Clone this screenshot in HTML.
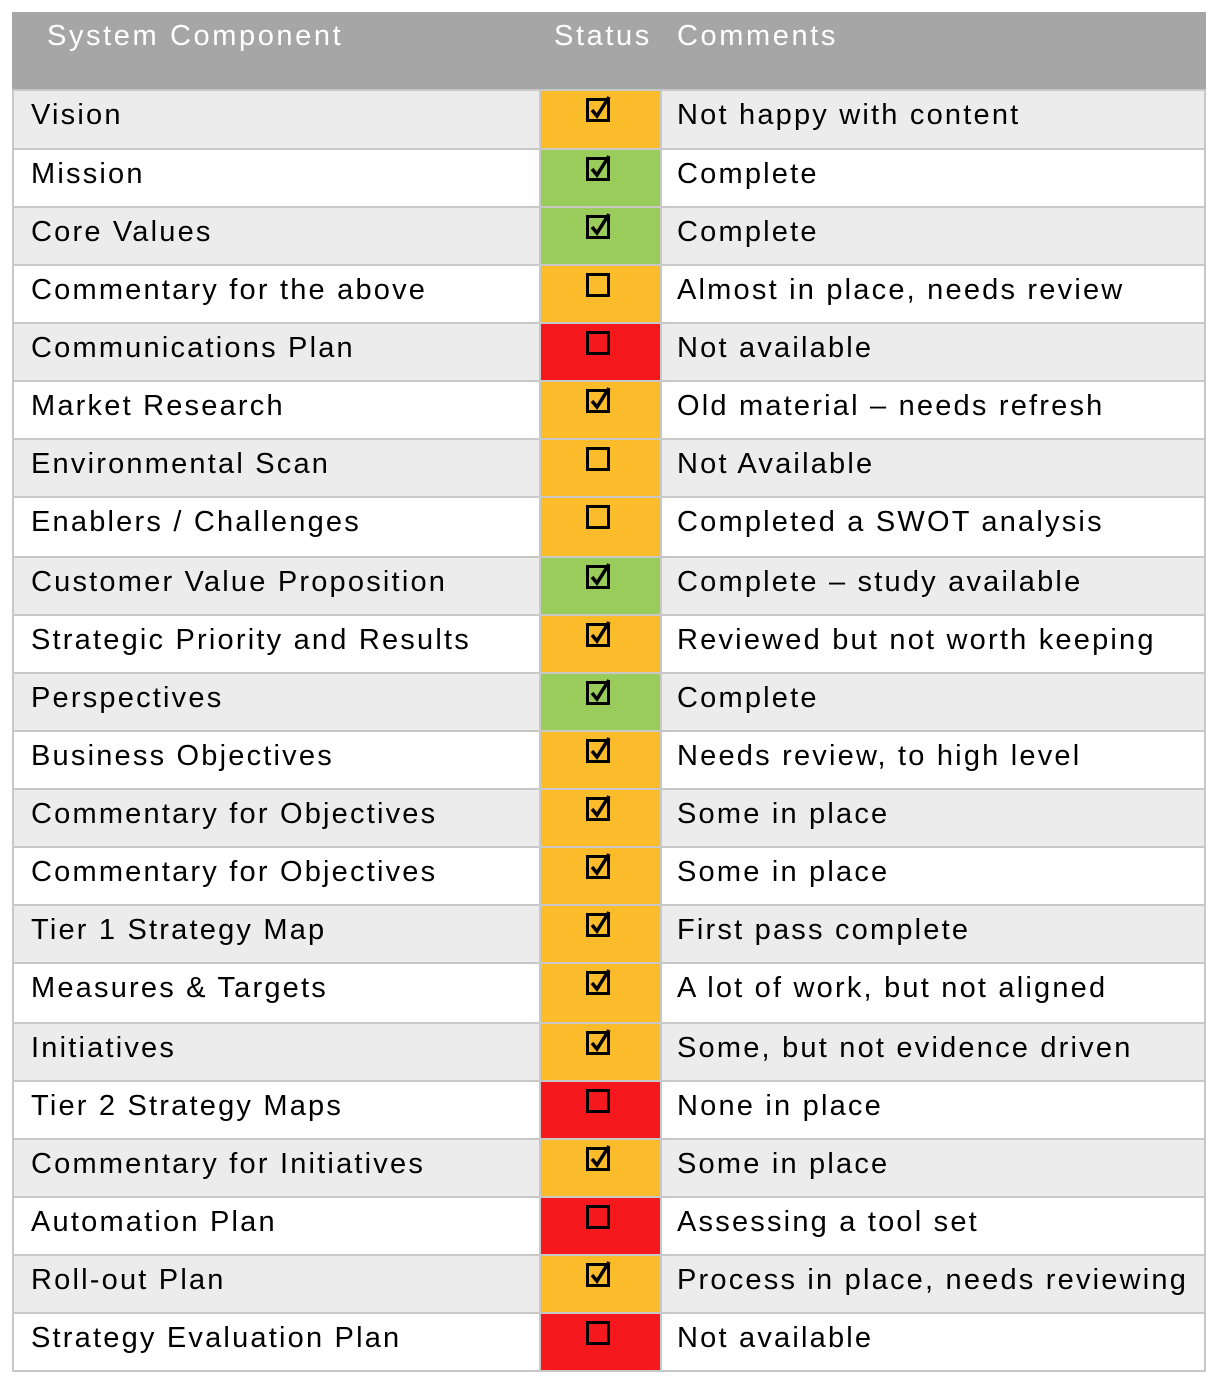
<!DOCTYPE html>
<html><head><meta charset="utf-8"><style>
body{margin:0;width:1218px;height:1386px;background:#fff;position:relative;overflow:hidden;font-family:"Liberation Sans",sans-serif;}
.h{position:absolute;left:12px;top:12px;width:1194px;height:77px;background:#a6a6a6;}
.ht{position:absolute;top:22px;color:#fff;font-size:29px;line-height:28px;letter-spacing:2.6px;}
.r{position:absolute;left:12px;width:1194px;border-top:2px solid #c8c8c8;border-left:2px solid #c8c8c8;border-right:2px solid #c8c8c8;box-sizing:border-box;}
.g{background:#ececec}.w{background:#fff}
.s{position:absolute;left:525px;top:0;bottom:0;width:119px;border-left:2px solid #c8c8c8;border-right:2px solid #c8c8c8;}
.o{background:#fbbc2c}.gr{background:#99cc5a}.rd{background:#f5191e}
.t{position:absolute;top:10px;font-size:29px;line-height:28px;letter-spacing:2.2px;color:#000;white-space:nowrap;}
.a{left:17px}.c{left:663px}
.b{position:absolute;left:45px;top:5px;width:26px;height:26px;}
.bot{position:absolute;left:12px;top:1370px;width:1194px;height:2px;background:#c8c8c8;}
</style></head><body>
<div class="h"></div>
<div class="ht" style="left:47px">System Component</div>
<div class="ht" style="left:554px">Status</div>
<div class="ht" style="left:677px">Comments</div>

<div class="r g" style="top:89px;height:59px"><div class="t a">Vision</div><div class="s o"><svg class="b" viewBox="0 0 26 26"><rect x="1.5" y="3.5" width="21" height="21" fill="none" stroke="#000" stroke-width="3"/><path d="M6 14 L11 20 L23 1" fill="none" stroke="#000" stroke-width="3.5"/></svg></div><div class="t c">Not happy with content</div></div>
<div class="r w" style="top:148px;height:58px"><div class="t a">Mission</div><div class="s gr"><svg class="b" viewBox="0 0 26 26"><rect x="1.5" y="3.5" width="21" height="21" fill="none" stroke="#000" stroke-width="3"/><path d="M6 14 L11 20 L23 1" fill="none" stroke="#000" stroke-width="3.5"/></svg></div><div class="t c">Complete</div></div>
<div class="r g" style="top:206px;height:58px"><div class="t a">Core Values</div><div class="s gr"><svg class="b" viewBox="0 0 26 26"><rect x="1.5" y="3.5" width="21" height="21" fill="none" stroke="#000" stroke-width="3"/><path d="M6 14 L11 20 L23 1" fill="none" stroke="#000" stroke-width="3.5"/></svg></div><div class="t c">Complete</div></div>
<div class="r w" style="top:264px;height:58px"><div class="t a">Commentary for the above</div><div class="s o"><svg class="b" viewBox="0 0 26 26"><rect x="1.5" y="3.5" width="21" height="21" fill="none" stroke="#000" stroke-width="3"/></svg></div><div class="t c">Almost in place, needs review</div></div>
<div class="r g" style="top:322px;height:58px"><div class="t a">Communications Plan</div><div class="s rd"><svg class="b" viewBox="0 0 26 26"><rect x="1.5" y="3.5" width="21" height="21" fill="none" stroke="#000" stroke-width="3"/></svg></div><div class="t c">Not available</div></div>
<div class="r w" style="top:380px;height:58px"><div class="t a">Market Research</div><div class="s o"><svg class="b" viewBox="0 0 26 26"><rect x="1.5" y="3.5" width="21" height="21" fill="none" stroke="#000" stroke-width="3"/><path d="M6 14 L11 20 L23 1" fill="none" stroke="#000" stroke-width="3.5"/></svg></div><div class="t c">Old material – needs refresh</div></div>
<div class="r g" style="top:438px;height:58px"><div class="t a">Environmental Scan</div><div class="s o"><svg class="b" viewBox="0 0 26 26"><rect x="1.5" y="3.5" width="21" height="21" fill="none" stroke="#000" stroke-width="3"/></svg></div><div class="t c">Not Available</div></div>
<div class="r w" style="top:496px;height:60px"><div class="t a">Enablers / Challenges</div><div class="s o"><svg class="b" viewBox="0 0 26 26"><rect x="1.5" y="3.5" width="21" height="21" fill="none" stroke="#000" stroke-width="3"/></svg></div><div class="t c">Completed a SWOT analysis</div></div>
<div class="r g" style="top:556px;height:58px"><div class="t a">Customer Value Proposition</div><div class="s gr"><svg class="b" viewBox="0 0 26 26"><rect x="1.5" y="3.5" width="21" height="21" fill="none" stroke="#000" stroke-width="3"/><path d="M6 14 L11 20 L23 1" fill="none" stroke="#000" stroke-width="3.5"/></svg></div><div class="t c">Complete – study available</div></div>
<div class="r w" style="top:614px;height:58px"><div class="t a">Strategic Priority and Results</div><div class="s o"><svg class="b" viewBox="0 0 26 26"><rect x="1.5" y="3.5" width="21" height="21" fill="none" stroke="#000" stroke-width="3"/><path d="M6 14 L11 20 L23 1" fill="none" stroke="#000" stroke-width="3.5"/></svg></div><div class="t c">Reviewed but not worth keeping</div></div>
<div class="r g" style="top:672px;height:58px"><div class="t a">Perspectives</div><div class="s gr"><svg class="b" viewBox="0 0 26 26"><rect x="1.5" y="3.5" width="21" height="21" fill="none" stroke="#000" stroke-width="3"/><path d="M6 14 L11 20 L23 1" fill="none" stroke="#000" stroke-width="3.5"/></svg></div><div class="t c">Complete</div></div>
<div class="r w" style="top:730px;height:58px"><div class="t a">Business Objectives</div><div class="s o"><svg class="b" viewBox="0 0 26 26"><rect x="1.5" y="3.5" width="21" height="21" fill="none" stroke="#000" stroke-width="3"/><path d="M6 14 L11 20 L23 1" fill="none" stroke="#000" stroke-width="3.5"/></svg></div><div class="t c">Needs review, to high level</div></div>
<div class="r g" style="top:788px;height:58px"><div class="t a">Commentary for Objectives</div><div class="s o"><svg class="b" viewBox="0 0 26 26"><rect x="1.5" y="3.5" width="21" height="21" fill="none" stroke="#000" stroke-width="3"/><path d="M6 14 L11 20 L23 1" fill="none" stroke="#000" stroke-width="3.5"/></svg></div><div class="t c">Some in place</div></div>
<div class="r w" style="top:846px;height:58px"><div class="t a">Commentary for Objectives</div><div class="s o"><svg class="b" viewBox="0 0 26 26"><rect x="1.5" y="3.5" width="21" height="21" fill="none" stroke="#000" stroke-width="3"/><path d="M6 14 L11 20 L23 1" fill="none" stroke="#000" stroke-width="3.5"/></svg></div><div class="t c">Some in place</div></div>
<div class="r g" style="top:904px;height:58px"><div class="t a">Tier 1 Strategy Map</div><div class="s o"><svg class="b" viewBox="0 0 26 26"><rect x="1.5" y="3.5" width="21" height="21" fill="none" stroke="#000" stroke-width="3"/><path d="M6 14 L11 20 L23 1" fill="none" stroke="#000" stroke-width="3.5"/></svg></div><div class="t c">First pass complete</div></div>
<div class="r w" style="top:962px;height:60px"><div class="t a">Measures &amp; Targets</div><div class="s o"><svg class="b" viewBox="0 0 26 26"><rect x="1.5" y="3.5" width="21" height="21" fill="none" stroke="#000" stroke-width="3"/><path d="M6 14 L11 20 L23 1" fill="none" stroke="#000" stroke-width="3.5"/></svg></div><div class="t c">A lot of work, but not aligned</div></div>
<div class="r g" style="top:1022px;height:58px"><div class="t a">Initiatives</div><div class="s o"><svg class="b" viewBox="0 0 26 26"><rect x="1.5" y="3.5" width="21" height="21" fill="none" stroke="#000" stroke-width="3"/><path d="M6 14 L11 20 L23 1" fill="none" stroke="#000" stroke-width="3.5"/></svg></div><div class="t c">Some, but not evidence driven</div></div>
<div class="r w" style="top:1080px;height:58px"><div class="t a">Tier 2 Strategy Maps</div><div class="s rd"><svg class="b" viewBox="0 0 26 26"><rect x="1.5" y="3.5" width="21" height="21" fill="none" stroke="#000" stroke-width="3"/></svg></div><div class="t c">None in place</div></div>
<div class="r g" style="top:1138px;height:58px"><div class="t a">Commentary for Initiatives</div><div class="s o"><svg class="b" viewBox="0 0 26 26"><rect x="1.5" y="3.5" width="21" height="21" fill="none" stroke="#000" stroke-width="3"/><path d="M6 14 L11 20 L23 1" fill="none" stroke="#000" stroke-width="3.5"/></svg></div><div class="t c">Some in place</div></div>
<div class="r w" style="top:1196px;height:58px"><div class="t a">Automation Plan</div><div class="s rd"><svg class="b" viewBox="0 0 26 26"><rect x="1.5" y="3.5" width="21" height="21" fill="none" stroke="#000" stroke-width="3"/></svg></div><div class="t c">Assessing a tool set</div></div>
<div class="r g" style="top:1254px;height:58px"><div class="t a">Roll-out Plan</div><div class="s o"><svg class="b" viewBox="0 0 26 26"><rect x="1.5" y="3.5" width="21" height="21" fill="none" stroke="#000" stroke-width="3"/><path d="M6 14 L11 20 L23 1" fill="none" stroke="#000" stroke-width="3.5"/></svg></div><div class="t c">Process in place, needs reviewing</div></div>
<div class="r w" style="top:1312px;height:58px"><div class="t a">Strategy Evaluation Plan</div><div class="s rd"><svg class="b" viewBox="0 0 26 26"><rect x="1.5" y="3.5" width="21" height="21" fill="none" stroke="#000" stroke-width="3"/></svg></div><div class="t c">Not available</div></div>
<div class="bot"></div>
</body></html>
